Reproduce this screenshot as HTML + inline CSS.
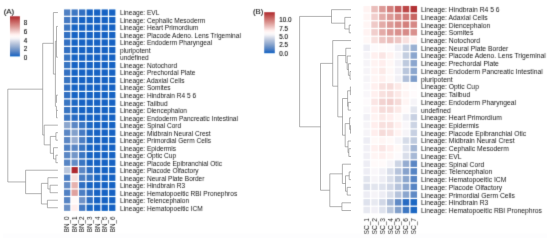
<!DOCTYPE html>
<html><head><meta charset="utf-8"><title>Clustermaps</title>
<style>html,body{margin:0;padding:0;background:#fff;}body{width:550px;height:240px;overflow:hidden;}svg{display:block;}</style>
</head><body>
<svg width="550" height="240" viewBox="0 0 550 240" font-family='"Liberation Sans", Arial, sans-serif'>
<defs><filter id="soft" x="-2%" y="-2%" width="104%" height="104%"><feConvolveMatrix order="3" kernelMatrix="0.0113 0.0838 0.0113 0.0838 0.6193 0.0838 0.0113 0.0838 0.0113" divisor="1" edgeMode="duplicate" preserveAlpha="false"/></filter></defs>
<rect width="550" height="240" fill="#ffffff"/>
<g filter="url(#soft)">
<rect x="3" y="233.5" width="544" height="4.5" fill="#fdfdfe"/>
<text x="3.7" y="13.9" font-size="7.9" fill="#111" stroke="#111" stroke-width="0.12">(A)</text>
<text x="253" y="13.9" font-size="7.7" fill="#111" stroke="#111" stroke-width="0.12">(B)</text>
<linearGradient id="g10" gradientUnits="userSpaceOnUse" x1="0" y1="16.3" x2="0" y2="56.4"><stop offset="0.00" stop-color="#ae282d"/><stop offset="0.05" stop-color="#b83e3f"/><stop offset="0.10" stop-color="#c15453"/><stop offset="0.15" stop-color="#ca6a67"/><stop offset="0.20" stop-color="#d37f7c"/><stop offset="0.25" stop-color="#da9490"/><stop offset="0.30" stop-color="#e3aaa7"/><stop offset="0.35" stop-color="#ebc0be"/><stop offset="0.40" stop-color="#f5d7d5"/><stop offset="0.45" stop-color="#ffeeed"/><stop offset="0.50" stop-color="#fff9f8"/><stop offset="0.55" stop-color="#f6f4f8"/><stop offset="0.60" stop-color="#dee2ed"/><stop offset="0.65" stop-color="#c7d0e2"/><stop offset="0.70" stop-color="#b0bfd9"/><stop offset="0.75" stop-color="#9ab0d2"/><stop offset="0.80" stop-color="#82a0cb"/><stop offset="0.85" stop-color="#6a90c6"/><stop offset="0.90" stop-color="#5080c3"/><stop offset="0.95" stop-color="#3270c2"/><stop offset="1.00" stop-color="#0e61c3"/></linearGradient>
<rect x="10" y="16.3" width="9.90" height="40.10" fill="url(#g10)"/>
<g font-size="6.3" fill="#161616" stroke="#161616" stroke-width="0.15">
<text x="23.8" y="25.37">8</text>
<text x="23.8" y="34.07">6</text>
<text x="23.8" y="42.77">4</text>
<text x="23.8" y="51.47">2</text>
<text x="23.8" y="60.07">0</text>
</g>
<linearGradient id="g264" gradientUnits="userSpaceOnUse" x1="0" y1="12.2" x2="0" y2="53.2"><stop offset="0.00" stop-color="#ae282d"/><stop offset="0.05" stop-color="#b83e3f"/><stop offset="0.10" stop-color="#c15453"/><stop offset="0.15" stop-color="#ca6a67"/><stop offset="0.20" stop-color="#d37f7c"/><stop offset="0.25" stop-color="#da9490"/><stop offset="0.30" stop-color="#e3aaa7"/><stop offset="0.35" stop-color="#ebc0be"/><stop offset="0.40" stop-color="#f5d7d5"/><stop offset="0.45" stop-color="#ffeeed"/><stop offset="0.50" stop-color="#fff9f8"/><stop offset="0.55" stop-color="#f6f4f8"/><stop offset="0.60" stop-color="#dee2ed"/><stop offset="0.65" stop-color="#c7d0e2"/><stop offset="0.70" stop-color="#b0bfd9"/><stop offset="0.75" stop-color="#9ab0d2"/><stop offset="0.80" stop-color="#82a0cb"/><stop offset="0.85" stop-color="#6a90c6"/><stop offset="0.90" stop-color="#5080c3"/><stop offset="0.95" stop-color="#3270c2"/><stop offset="1.00" stop-color="#0e61c3"/></linearGradient>
<rect x="264.2" y="12.2" width="10.60" height="41.00" fill="url(#g264)"/>
<g font-size="6.3" fill="#161616" stroke="#161616" stroke-width="0.15">
<text x="279.3" y="22.27">10.0</text>
<text x="279.3" y="30.67">7.5</text>
<text x="279.3" y="39.07">5.0</text>
<text x="279.3" y="47.47">2.5</text>
<text x="279.3" y="55.77">0.0</text>
</g>
<g id="heatA">
<rect x="64.03" y="9.43" width="6.26" height="6.26" fill="#5080c3"/>
<rect x="71.54" y="9.43" width="6.26" height="6.26" fill="#3e77c2"/>
<rect x="79.05" y="9.43" width="6.26" height="6.26" fill="#3270c2"/>
<rect x="86.57" y="9.43" width="6.26" height="6.26" fill="#1262c3"/>
<rect x="94.08" y="9.43" width="6.26" height="6.26" fill="#1262c3"/>
<rect x="101.60" y="9.43" width="6.26" height="6.26" fill="#1262c3"/>
<rect x="109.11" y="9.43" width="6.26" height="6.26" fill="#1262c3"/>
<rect x="64.03" y="16.93" width="6.26" height="6.26" fill="#457ac3"/>
<rect x="71.54" y="16.93" width="6.26" height="6.26" fill="#256ac2"/>
<rect x="79.05" y="16.93" width="6.26" height="6.26" fill="#1262c3"/>
<rect x="86.57" y="16.93" width="6.26" height="6.26" fill="#1262c3"/>
<rect x="94.08" y="16.93" width="6.26" height="6.26" fill="#1262c3"/>
<rect x="101.60" y="16.93" width="6.26" height="6.26" fill="#1262c3"/>
<rect x="109.11" y="16.93" width="6.26" height="6.26" fill="#1262c3"/>
<rect x="64.03" y="24.44" width="6.26" height="6.26" fill="#3e77c2"/>
<rect x="71.54" y="24.44" width="6.26" height="6.26" fill="#1664c3"/>
<rect x="79.05" y="24.44" width="6.26" height="6.26" fill="#1262c3"/>
<rect x="86.57" y="24.44" width="6.26" height="6.26" fill="#1262c3"/>
<rect x="94.08" y="24.44" width="6.26" height="6.26" fill="#1262c3"/>
<rect x="101.60" y="24.44" width="6.26" height="6.26" fill="#1262c3"/>
<rect x="109.11" y="24.44" width="6.26" height="6.26" fill="#1262c3"/>
<rect x="64.03" y="31.95" width="6.26" height="6.26" fill="#3270c2"/>
<rect x="71.54" y="31.95" width="6.26" height="6.26" fill="#1664c3"/>
<rect x="79.05" y="31.95" width="6.26" height="6.26" fill="#1262c3"/>
<rect x="86.57" y="31.95" width="6.26" height="6.26" fill="#1262c3"/>
<rect x="94.08" y="31.95" width="6.26" height="6.26" fill="#1262c3"/>
<rect x="101.60" y="31.95" width="6.26" height="6.26" fill="#1262c3"/>
<rect x="109.11" y="31.95" width="6.26" height="6.26" fill="#1262c3"/>
<rect x="64.03" y="39.45" width="6.26" height="6.26" fill="#3270c2"/>
<rect x="71.54" y="39.45" width="6.26" height="6.26" fill="#1664c3"/>
<rect x="79.05" y="39.45" width="6.26" height="6.26" fill="#1262c3"/>
<rect x="86.57" y="39.45" width="6.26" height="6.26" fill="#1262c3"/>
<rect x="94.08" y="39.45" width="6.26" height="6.26" fill="#1262c3"/>
<rect x="101.60" y="39.45" width="6.26" height="6.26" fill="#1262c3"/>
<rect x="109.11" y="39.45" width="6.26" height="6.26" fill="#1262c3"/>
<rect x="64.03" y="46.96" width="6.26" height="6.26" fill="#3270c2"/>
<rect x="71.54" y="46.96" width="6.26" height="6.26" fill="#1664c3"/>
<rect x="79.05" y="46.96" width="6.26" height="6.26" fill="#1262c3"/>
<rect x="86.57" y="46.96" width="6.26" height="6.26" fill="#1262c3"/>
<rect x="94.08" y="46.96" width="6.26" height="6.26" fill="#1262c3"/>
<rect x="101.60" y="46.96" width="6.26" height="6.26" fill="#1262c3"/>
<rect x="109.11" y="46.96" width="6.26" height="6.26" fill="#1262c3"/>
<rect x="64.03" y="54.47" width="6.26" height="6.26" fill="#3974c2"/>
<rect x="71.54" y="54.47" width="6.26" height="6.26" fill="#1664c3"/>
<rect x="79.05" y="54.47" width="6.26" height="6.26" fill="#1262c3"/>
<rect x="86.57" y="54.47" width="6.26" height="6.26" fill="#1262c3"/>
<rect x="94.08" y="54.47" width="6.26" height="6.26" fill="#1262c3"/>
<rect x="101.60" y="54.47" width="6.26" height="6.26" fill="#1262c3"/>
<rect x="109.11" y="54.47" width="6.26" height="6.26" fill="#1262c3"/>
<rect x="64.03" y="61.98" width="6.26" height="6.26" fill="#3974c2"/>
<rect x="71.54" y="61.98" width="6.26" height="6.26" fill="#1664c3"/>
<rect x="79.05" y="61.98" width="6.26" height="6.26" fill="#1262c3"/>
<rect x="86.57" y="61.98" width="6.26" height="6.26" fill="#1262c3"/>
<rect x="94.08" y="61.98" width="6.26" height="6.26" fill="#1262c3"/>
<rect x="101.60" y="61.98" width="6.26" height="6.26" fill="#1262c3"/>
<rect x="109.11" y="61.98" width="6.26" height="6.26" fill="#1262c3"/>
<rect x="64.03" y="69.48" width="6.26" height="6.26" fill="#3270c2"/>
<rect x="71.54" y="69.48" width="6.26" height="6.26" fill="#1664c3"/>
<rect x="79.05" y="69.48" width="6.26" height="6.26" fill="#1262c3"/>
<rect x="86.57" y="69.48" width="6.26" height="6.26" fill="#1262c3"/>
<rect x="94.08" y="69.48" width="6.26" height="6.26" fill="#1262c3"/>
<rect x="101.60" y="69.48" width="6.26" height="6.26" fill="#1262c3"/>
<rect x="109.11" y="69.48" width="6.26" height="6.26" fill="#1262c3"/>
<rect x="64.03" y="76.99" width="6.26" height="6.26" fill="#3974c2"/>
<rect x="71.54" y="76.99" width="6.26" height="6.26" fill="#1664c3"/>
<rect x="79.05" y="76.99" width="6.26" height="6.26" fill="#1262c3"/>
<rect x="86.57" y="76.99" width="6.26" height="6.26" fill="#1262c3"/>
<rect x="94.08" y="76.99" width="6.26" height="6.26" fill="#1262c3"/>
<rect x="101.60" y="76.99" width="6.26" height="6.26" fill="#1262c3"/>
<rect x="109.11" y="76.99" width="6.26" height="6.26" fill="#1262c3"/>
<rect x="64.03" y="84.50" width="6.26" height="6.26" fill="#3270c2"/>
<rect x="71.54" y="84.50" width="6.26" height="6.26" fill="#1664c3"/>
<rect x="79.05" y="84.50" width="6.26" height="6.26" fill="#1262c3"/>
<rect x="86.57" y="84.50" width="6.26" height="6.26" fill="#1262c3"/>
<rect x="94.08" y="84.50" width="6.26" height="6.26" fill="#1262c3"/>
<rect x="101.60" y="84.50" width="6.26" height="6.26" fill="#1262c3"/>
<rect x="109.11" y="84.50" width="6.26" height="6.26" fill="#1262c3"/>
<rect x="64.03" y="92.01" width="6.26" height="6.26" fill="#3270c2"/>
<rect x="71.54" y="92.01" width="6.26" height="6.26" fill="#1664c3"/>
<rect x="79.05" y="92.01" width="6.26" height="6.26" fill="#1262c3"/>
<rect x="86.57" y="92.01" width="6.26" height="6.26" fill="#1262c3"/>
<rect x="94.08" y="92.01" width="6.26" height="6.26" fill="#1262c3"/>
<rect x="101.60" y="92.01" width="6.26" height="6.26" fill="#1262c3"/>
<rect x="109.11" y="92.01" width="6.26" height="6.26" fill="#1262c3"/>
<rect x="64.03" y="99.51" width="6.26" height="6.26" fill="#3974c2"/>
<rect x="71.54" y="99.51" width="6.26" height="6.26" fill="#1f68c3"/>
<rect x="79.05" y="99.51" width="6.26" height="6.26" fill="#1262c3"/>
<rect x="86.57" y="99.51" width="6.26" height="6.26" fill="#1262c3"/>
<rect x="94.08" y="99.51" width="6.26" height="6.26" fill="#1262c3"/>
<rect x="101.60" y="99.51" width="6.26" height="6.26" fill="#1262c3"/>
<rect x="109.11" y="99.51" width="6.26" height="6.26" fill="#1262c3"/>
<rect x="64.03" y="107.02" width="6.26" height="6.26" fill="#3974c2"/>
<rect x="71.54" y="107.02" width="6.26" height="6.26" fill="#1f68c3"/>
<rect x="79.05" y="107.02" width="6.26" height="6.26" fill="#1262c3"/>
<rect x="86.57" y="107.02" width="6.26" height="6.26" fill="#1262c3"/>
<rect x="94.08" y="107.02" width="6.26" height="6.26" fill="#1262c3"/>
<rect x="101.60" y="107.02" width="6.26" height="6.26" fill="#1262c3"/>
<rect x="109.11" y="107.02" width="6.26" height="6.26" fill="#1262c3"/>
<rect x="64.03" y="114.53" width="6.26" height="6.26" fill="#3e77c2"/>
<rect x="71.54" y="114.53" width="6.26" height="6.26" fill="#256ac2"/>
<rect x="79.05" y="114.53" width="6.26" height="6.26" fill="#1262c3"/>
<rect x="86.57" y="114.53" width="6.26" height="6.26" fill="#1262c3"/>
<rect x="94.08" y="114.53" width="6.26" height="6.26" fill="#1262c3"/>
<rect x="101.60" y="114.53" width="6.26" height="6.26" fill="#1262c3"/>
<rect x="109.11" y="114.53" width="6.26" height="6.26" fill="#1262c3"/>
<rect x="64.03" y="122.04" width="6.26" height="6.26" fill="#8ba6ce"/>
<rect x="71.54" y="122.04" width="6.26" height="6.26" fill="#5a86c4"/>
<rect x="79.05" y="122.04" width="6.26" height="6.26" fill="#3974c2"/>
<rect x="86.57" y="122.04" width="6.26" height="6.26" fill="#1f68c3"/>
<rect x="94.08" y="122.04" width="6.26" height="6.26" fill="#1262c3"/>
<rect x="101.60" y="122.04" width="6.26" height="6.26" fill="#1262c3"/>
<rect x="109.11" y="122.04" width="6.26" height="6.26" fill="#1262c3"/>
<rect x="64.03" y="129.54" width="6.26" height="6.26" fill="#5a86c4"/>
<rect x="71.54" y="129.54" width="6.26" height="6.26" fill="#82a0cb"/>
<rect x="79.05" y="129.54" width="6.26" height="6.26" fill="#457ac3"/>
<rect x="86.57" y="129.54" width="6.26" height="6.26" fill="#1f68c3"/>
<rect x="94.08" y="129.54" width="6.26" height="6.26" fill="#1262c3"/>
<rect x="101.60" y="129.54" width="6.26" height="6.26" fill="#1262c3"/>
<rect x="109.11" y="129.54" width="6.26" height="6.26" fill="#1262c3"/>
<rect x="64.03" y="137.05" width="6.26" height="6.26" fill="#5a86c4"/>
<rect x="71.54" y="137.05" width="6.26" height="6.26" fill="#95acd0"/>
<rect x="79.05" y="137.05" width="6.26" height="6.26" fill="#4b7ec3"/>
<rect x="86.57" y="137.05" width="6.26" height="6.26" fill="#1f68c3"/>
<rect x="94.08" y="137.05" width="6.26" height="6.26" fill="#1262c3"/>
<rect x="101.60" y="137.05" width="6.26" height="6.26" fill="#1262c3"/>
<rect x="109.11" y="137.05" width="6.26" height="6.26" fill="#1262c3"/>
<rect x="64.03" y="144.56" width="6.26" height="6.26" fill="#5080c3"/>
<rect x="71.54" y="144.56" width="6.26" height="6.26" fill="#5a86c4"/>
<rect x="79.05" y="144.56" width="6.26" height="6.26" fill="#3974c2"/>
<rect x="86.57" y="144.56" width="6.26" height="6.26" fill="#1664c3"/>
<rect x="94.08" y="144.56" width="6.26" height="6.26" fill="#1262c3"/>
<rect x="101.60" y="144.56" width="6.26" height="6.26" fill="#1262c3"/>
<rect x="109.11" y="144.56" width="6.26" height="6.26" fill="#1262c3"/>
<rect x="64.03" y="152.07" width="6.26" height="6.26" fill="#5a86c4"/>
<rect x="71.54" y="152.07" width="6.26" height="6.26" fill="#7396c8"/>
<rect x="79.05" y="152.07" width="6.26" height="6.26" fill="#3974c2"/>
<rect x="86.57" y="152.07" width="6.26" height="6.26" fill="#1664c3"/>
<rect x="94.08" y="152.07" width="6.26" height="6.26" fill="#1262c3"/>
<rect x="101.60" y="152.07" width="6.26" height="6.26" fill="#1262c3"/>
<rect x="109.11" y="152.07" width="6.26" height="6.26" fill="#1262c3"/>
<rect x="64.03" y="159.57" width="6.26" height="6.26" fill="#5684c4"/>
<rect x="71.54" y="159.57" width="6.26" height="6.26" fill="#648cc6"/>
<rect x="79.05" y="159.57" width="6.26" height="6.26" fill="#3974c2"/>
<rect x="86.57" y="159.57" width="6.26" height="6.26" fill="#1664c3"/>
<rect x="94.08" y="159.57" width="6.26" height="6.26" fill="#1262c3"/>
<rect x="101.60" y="159.57" width="6.26" height="6.26" fill="#1262c3"/>
<rect x="109.11" y="159.57" width="6.26" height="6.26" fill="#1262c3"/>
<rect x="64.03" y="167.08" width="6.26" height="6.26" fill="#b9c6dc"/>
<rect x="71.54" y="167.08" width="6.26" height="6.26" fill="#ae282d"/>
<rect x="79.05" y="167.08" width="6.26" height="6.26" fill="#5a86c4"/>
<rect x="86.57" y="167.08" width="6.26" height="6.26" fill="#2d6ec2"/>
<rect x="94.08" y="167.08" width="6.26" height="6.26" fill="#1664c3"/>
<rect x="101.60" y="167.08" width="6.26" height="6.26" fill="#1262c3"/>
<rect x="109.11" y="167.08" width="6.26" height="6.26" fill="#1262c3"/>
<rect x="64.03" y="174.59" width="6.26" height="6.26" fill="#4b7ec3"/>
<rect x="71.54" y="174.59" width="6.26" height="6.26" fill="#f8e0de"/>
<rect x="79.05" y="174.59" width="6.26" height="6.26" fill="#4b7ec3"/>
<rect x="86.57" y="174.59" width="6.26" height="6.26" fill="#3974c2"/>
<rect x="94.08" y="174.59" width="6.26" height="6.26" fill="#1f68c3"/>
<rect x="101.60" y="174.59" width="6.26" height="6.26" fill="#1262c3"/>
<rect x="109.11" y="174.59" width="6.26" height="6.26" fill="#1262c3"/>
<rect x="64.03" y="182.10" width="6.26" height="6.26" fill="#648cc6"/>
<rect x="71.54" y="182.10" width="6.26" height="6.26" fill="#e6b2af"/>
<rect x="79.05" y="182.10" width="6.26" height="6.26" fill="#2d6ec2"/>
<rect x="86.57" y="182.10" width="6.26" height="6.26" fill="#1664c3"/>
<rect x="94.08" y="182.10" width="6.26" height="6.26" fill="#1262c3"/>
<rect x="101.60" y="182.10" width="6.26" height="6.26" fill="#1262c3"/>
<rect x="109.11" y="182.10" width="6.26" height="6.26" fill="#1262c3"/>
<rect x="64.03" y="189.60" width="6.26" height="6.26" fill="#5080c3"/>
<rect x="71.54" y="189.60" width="6.26" height="6.26" fill="#dfa19e"/>
<rect x="79.05" y="189.60" width="6.26" height="6.26" fill="#4b7ec3"/>
<rect x="86.57" y="189.60" width="6.26" height="6.26" fill="#2d6ec2"/>
<rect x="94.08" y="189.60" width="6.26" height="6.26" fill="#1262c3"/>
<rect x="101.60" y="189.60" width="6.26" height="6.26" fill="#1262c3"/>
<rect x="109.11" y="189.60" width="6.26" height="6.26" fill="#1262c3"/>
<rect x="64.03" y="197.11" width="6.26" height="6.26" fill="#5684c4"/>
<rect x="71.54" y="197.11" width="6.26" height="6.26" fill="#fff9f8"/>
<rect x="79.05" y="197.11" width="6.26" height="6.26" fill="#6e92c7"/>
<rect x="86.57" y="197.11" width="6.26" height="6.26" fill="#2d6ec2"/>
<rect x="94.08" y="197.11" width="6.26" height="6.26" fill="#1262c3"/>
<rect x="101.60" y="197.11" width="6.26" height="6.26" fill="#1262c3"/>
<rect x="109.11" y="197.11" width="6.26" height="6.26" fill="#1262c3"/>
<rect x="64.03" y="204.62" width="6.26" height="6.26" fill="#6a90c6"/>
<rect x="71.54" y="204.62" width="6.26" height="6.26" fill="#ffeeed"/>
<rect x="79.05" y="204.62" width="6.26" height="6.26" fill="#457ac3"/>
<rect x="86.57" y="204.62" width="6.26" height="6.26" fill="#1f68c3"/>
<rect x="94.08" y="204.62" width="6.26" height="6.26" fill="#1262c3"/>
<rect x="101.60" y="204.62" width="6.26" height="6.26" fill="#1262c3"/>
<rect x="109.11" y="204.62" width="6.26" height="6.26" fill="#1262c3"/>
</g>
<g id="heatB">
<rect x="363.45" y="5.95" width="6.54" height="6.43" fill="#fff3f2"/>
<rect x="371.29" y="5.95" width="6.54" height="6.43" fill="#eabdba"/>
<rect x="379.14" y="5.95" width="6.54" height="6.43" fill="#dc9996"/>
<rect x="386.98" y="5.95" width="6.54" height="6.43" fill="#d37f7c"/>
<rect x="394.82" y="5.95" width="6.54" height="6.43" fill="#c55c5b"/>
<rect x="402.66" y="5.95" width="6.54" height="6.43" fill="#bc4746"/>
<rect x="410.51" y="5.95" width="6.54" height="6.43" fill="#b23234"/>
<rect x="363.45" y="13.68" width="6.54" height="6.43" fill="#fff5f4"/>
<rect x="371.29" y="13.68" width="6.54" height="6.43" fill="#f1cecc"/>
<rect x="379.14" y="13.68" width="6.54" height="6.43" fill="#e3aaa7"/>
<rect x="386.98" y="13.68" width="6.54" height="6.43" fill="#dc9996"/>
<rect x="394.82" y="13.68" width="6.54" height="6.43" fill="#d68885"/>
<rect x="402.66" y="13.68" width="6.54" height="6.43" fill="#d07774"/>
<rect x="410.51" y="13.68" width="6.54" height="6.43" fill="#c86562"/>
<rect x="363.45" y="21.40" width="6.54" height="6.43" fill="#fff5f4"/>
<rect x="371.29" y="21.40" width="6.54" height="6.43" fill="#efc9c7"/>
<rect x="379.14" y="21.40" width="6.54" height="6.43" fill="#e3aaa7"/>
<rect x="386.98" y="21.40" width="6.54" height="6.43" fill="#dc9996"/>
<rect x="394.82" y="21.40" width="6.54" height="6.43" fill="#d78b88"/>
<rect x="402.66" y="21.40" width="6.54" height="6.43" fill="#d37f7c"/>
<rect x="410.51" y="21.40" width="6.54" height="6.43" fill="#d68885"/>
<rect x="363.45" y="29.13" width="6.54" height="6.43" fill="#fff3f2"/>
<rect x="371.29" y="29.13" width="6.54" height="6.43" fill="#f1cecc"/>
<rect x="379.14" y="29.13" width="6.54" height="6.43" fill="#e3aaa7"/>
<rect x="386.98" y="29.13" width="6.54" height="6.43" fill="#dc9996"/>
<rect x="394.82" y="29.13" width="6.54" height="6.43" fill="#d9908d"/>
<rect x="402.66" y="29.13" width="6.54" height="6.43" fill="#d78b88"/>
<rect x="410.51" y="29.13" width="6.54" height="6.43" fill="#d9908d"/>
<rect x="363.45" y="36.85" width="6.54" height="6.43" fill="#fff8f7"/>
<rect x="371.29" y="36.85" width="6.54" height="6.43" fill="#f8e0de"/>
<rect x="379.14" y="36.85" width="6.54" height="6.43" fill="#edc5c3"/>
<rect x="386.98" y="36.85" width="6.54" height="6.43" fill="#eabdba"/>
<rect x="394.82" y="36.85" width="6.54" height="6.43" fill="#edc5c3"/>
<rect x="402.66" y="36.85" width="6.54" height="6.43" fill="#f8e0de"/>
<rect x="410.51" y="36.85" width="6.54" height="6.43" fill="#fff0ef"/>
<rect x="363.45" y="44.58" width="6.54" height="6.43" fill="#ededf4"/>
<rect x="371.29" y="44.58" width="6.54" height="6.43" fill="#fdfafc"/>
<rect x="379.14" y="44.58" width="6.54" height="6.43" fill="#fffafa"/>
<rect x="386.98" y="44.58" width="6.54" height="6.43" fill="#fdfafc"/>
<rect x="394.82" y="44.58" width="6.54" height="6.43" fill="#ededf4"/>
<rect x="402.66" y="44.58" width="6.54" height="6.43" fill="#c7d0e2"/>
<rect x="410.51" y="44.58" width="6.54" height="6.43" fill="#9ab0d2"/>
<rect x="363.45" y="52.31" width="6.54" height="6.43" fill="#f6f4f8"/>
<rect x="371.29" y="52.31" width="6.54" height="6.43" fill="#fff0ef"/>
<rect x="379.14" y="52.31" width="6.54" height="6.43" fill="#fbe5e4"/>
<rect x="386.98" y="52.31" width="6.54" height="6.43" fill="#fff3f2"/>
<rect x="394.82" y="52.31" width="6.54" height="6.43" fill="#f6f4f8"/>
<rect x="402.66" y="52.31" width="6.54" height="6.43" fill="#c3cee0"/>
<rect x="410.51" y="52.31" width="6.54" height="6.43" fill="#8ba6ce"/>
<rect x="363.45" y="60.03" width="6.54" height="6.43" fill="#f6f4f8"/>
<rect x="371.29" y="60.03" width="6.54" height="6.43" fill="#fff3f2"/>
<rect x="379.14" y="60.03" width="6.54" height="6.43" fill="#ffeeed"/>
<rect x="386.98" y="60.03" width="6.54" height="6.43" fill="#fff8f7"/>
<rect x="394.82" y="60.03" width="6.54" height="6.43" fill="#f1f0f6"/>
<rect x="402.66" y="60.03" width="6.54" height="6.43" fill="#becade"/>
<rect x="410.51" y="60.03" width="6.54" height="6.43" fill="#8ba6ce"/>
<rect x="363.45" y="67.76" width="6.54" height="6.43" fill="#f6f4f8"/>
<rect x="371.29" y="67.76" width="6.54" height="6.43" fill="#fff3f2"/>
<rect x="379.14" y="67.76" width="6.54" height="6.43" fill="#fce9e7"/>
<rect x="386.98" y="67.76" width="6.54" height="6.43" fill="#fff8f7"/>
<rect x="394.82" y="67.76" width="6.54" height="6.43" fill="#f1f0f6"/>
<rect x="402.66" y="67.76" width="6.54" height="6.43" fill="#b9c6dc"/>
<rect x="410.51" y="67.76" width="6.54" height="6.43" fill="#8ba6ce"/>
<rect x="363.45" y="75.48" width="6.54" height="6.43" fill="#f6f4f8"/>
<rect x="371.29" y="75.48" width="6.54" height="6.43" fill="#fff5f4"/>
<rect x="379.14" y="75.48" width="6.54" height="6.43" fill="#fff0ef"/>
<rect x="386.98" y="75.48" width="6.54" height="6.43" fill="#fff8f7"/>
<rect x="394.82" y="75.48" width="6.54" height="6.43" fill="#f1f0f6"/>
<rect x="402.66" y="75.48" width="6.54" height="6.43" fill="#b0bfd9"/>
<rect x="410.51" y="75.48" width="6.54" height="6.43" fill="#7d9cca"/>
<rect x="363.45" y="83.21" width="6.54" height="6.43" fill="#f9f7fa"/>
<rect x="371.29" y="83.21" width="6.54" height="6.43" fill="#fff0ef"/>
<rect x="379.14" y="83.21" width="6.54" height="6.43" fill="#f8e0de"/>
<rect x="386.98" y="83.21" width="6.54" height="6.43" fill="#f6dbd9"/>
<rect x="394.82" y="83.21" width="6.54" height="6.43" fill="#fce9e7"/>
<rect x="402.66" y="83.21" width="6.54" height="6.43" fill="#fff8f7"/>
<rect x="410.51" y="83.21" width="6.54" height="6.43" fill="#fdfafc"/>
<rect x="363.45" y="90.94" width="6.54" height="6.43" fill="#f9f7fa"/>
<rect x="371.29" y="90.94" width="6.54" height="6.43" fill="#fff0ef"/>
<rect x="379.14" y="90.94" width="6.54" height="6.43" fill="#f8e0de"/>
<rect x="386.98" y="90.94" width="6.54" height="6.43" fill="#f6dbd9"/>
<rect x="394.82" y="90.94" width="6.54" height="6.43" fill="#fce9e7"/>
<rect x="402.66" y="90.94" width="6.54" height="6.43" fill="#fff5f4"/>
<rect x="410.51" y="90.94" width="6.54" height="6.43" fill="#fffbfc"/>
<rect x="363.45" y="98.66" width="6.54" height="6.43" fill="#fdfafc"/>
<rect x="371.29" y="98.66" width="6.54" height="6.43" fill="#fbe5e4"/>
<rect x="379.14" y="98.66" width="6.54" height="6.43" fill="#f2d2d0"/>
<rect x="386.98" y="98.66" width="6.54" height="6.43" fill="#f1cecc"/>
<rect x="394.82" y="98.66" width="6.54" height="6.43" fill="#f6dbd9"/>
<rect x="402.66" y="98.66" width="6.54" height="6.43" fill="#fff5f4"/>
<rect x="410.51" y="98.66" width="6.54" height="6.43" fill="#f6f4f8"/>
<rect x="363.45" y="106.39" width="6.54" height="6.43" fill="#f9f7fa"/>
<rect x="371.29" y="106.39" width="6.54" height="6.43" fill="#ffeeed"/>
<rect x="379.14" y="106.39" width="6.54" height="6.43" fill="#f6dbd9"/>
<rect x="386.98" y="106.39" width="6.54" height="6.43" fill="#f6dbd9"/>
<rect x="394.82" y="106.39" width="6.54" height="6.43" fill="#fce9e7"/>
<rect x="402.66" y="106.39" width="6.54" height="6.43" fill="#fffafa"/>
<rect x="410.51" y="106.39" width="6.54" height="6.43" fill="#e2e5ee"/>
<rect x="363.45" y="114.11" width="6.54" height="6.43" fill="#f1f0f6"/>
<rect x="371.29" y="114.11" width="6.54" height="6.43" fill="#fff3f2"/>
<rect x="379.14" y="114.11" width="6.54" height="6.43" fill="#fce9e7"/>
<rect x="386.98" y="114.11" width="6.54" height="6.43" fill="#ffeeed"/>
<rect x="394.82" y="114.11" width="6.54" height="6.43" fill="#fff8f7"/>
<rect x="402.66" y="114.11" width="6.54" height="6.43" fill="#ededf4"/>
<rect x="410.51" y="114.11" width="6.54" height="6.43" fill="#c7d0e2"/>
<rect x="363.45" y="121.84" width="6.54" height="6.43" fill="#f6f4f8"/>
<rect x="371.29" y="121.84" width="6.54" height="6.43" fill="#ffeeed"/>
<rect x="379.14" y="121.84" width="6.54" height="6.43" fill="#f8e0de"/>
<rect x="386.98" y="121.84" width="6.54" height="6.43" fill="#f8e0de"/>
<rect x="394.82" y="121.84" width="6.54" height="6.43" fill="#fff0ef"/>
<rect x="402.66" y="121.84" width="6.54" height="6.43" fill="#f9f7fa"/>
<rect x="410.51" y="121.84" width="6.54" height="6.43" fill="#ccd4e4"/>
<rect x="363.45" y="129.56" width="6.54" height="6.43" fill="#f6f4f8"/>
<rect x="371.29" y="129.56" width="6.54" height="6.43" fill="#ffeeed"/>
<rect x="379.14" y="129.56" width="6.54" height="6.43" fill="#f6dbd9"/>
<rect x="386.98" y="129.56" width="6.54" height="6.43" fill="#f8e0de"/>
<rect x="394.82" y="129.56" width="6.54" height="6.43" fill="#fff3f2"/>
<rect x="402.66" y="129.56" width="6.54" height="6.43" fill="#f6f4f8"/>
<rect x="410.51" y="129.56" width="6.54" height="6.43" fill="#c7d0e2"/>
<rect x="363.45" y="137.29" width="6.54" height="6.43" fill="#ededf4"/>
<rect x="371.29" y="137.29" width="6.54" height="6.43" fill="#fff9f8"/>
<rect x="379.14" y="137.29" width="6.54" height="6.43" fill="#fff5f4"/>
<rect x="386.98" y="137.29" width="6.54" height="6.43" fill="#fff9f8"/>
<rect x="394.82" y="137.29" width="6.54" height="6.43" fill="#f6f4f8"/>
<rect x="402.66" y="137.29" width="6.54" height="6.43" fill="#d5dbe8"/>
<rect x="410.51" y="137.29" width="6.54" height="6.43" fill="#becade"/>
<rect x="363.45" y="145.02" width="6.54" height="6.43" fill="#f1f0f6"/>
<rect x="371.29" y="145.02" width="6.54" height="6.43" fill="#fff0ef"/>
<rect x="379.14" y="145.02" width="6.54" height="6.43" fill="#fbe5e4"/>
<rect x="386.98" y="145.02" width="6.54" height="6.43" fill="#ffeeed"/>
<rect x="394.82" y="145.02" width="6.54" height="6.43" fill="#fff9f8"/>
<rect x="402.66" y="145.02" width="6.54" height="6.43" fill="#dee2ed"/>
<rect x="410.51" y="145.02" width="6.54" height="6.43" fill="#a3b6d4"/>
<rect x="363.45" y="152.74" width="6.54" height="6.43" fill="#f1f0f6"/>
<rect x="371.29" y="152.74" width="6.54" height="6.43" fill="#fff5f4"/>
<rect x="379.14" y="152.74" width="6.54" height="6.43" fill="#fff0ef"/>
<rect x="386.98" y="152.74" width="6.54" height="6.43" fill="#fff5f4"/>
<rect x="394.82" y="152.74" width="6.54" height="6.43" fill="#fdfafc"/>
<rect x="402.66" y="152.74" width="6.54" height="6.43" fill="#d9deea"/>
<rect x="410.51" y="152.74" width="6.54" height="6.43" fill="#a7b9d6"/>
<rect x="363.45" y="160.47" width="6.54" height="6.43" fill="#ededf4"/>
<rect x="371.29" y="160.47" width="6.54" height="6.43" fill="#fffafa"/>
<rect x="379.14" y="160.47" width="6.54" height="6.43" fill="#fffafa"/>
<rect x="386.98" y="160.47" width="6.54" height="6.43" fill="#f6f4f8"/>
<rect x="394.82" y="160.47" width="6.54" height="6.43" fill="#ccd4e4"/>
<rect x="402.66" y="160.47" width="6.54" height="6.43" fill="#95acd0"/>
<rect x="410.51" y="160.47" width="6.54" height="6.43" fill="#5a86c4"/>
<rect x="363.45" y="168.19" width="6.54" height="6.43" fill="#ededf4"/>
<rect x="371.29" y="168.19" width="6.54" height="6.43" fill="#f9f7fa"/>
<rect x="379.14" y="168.19" width="6.54" height="6.43" fill="#f1f0f6"/>
<rect x="386.98" y="168.19" width="6.54" height="6.43" fill="#d9deea"/>
<rect x="394.82" y="168.19" width="6.54" height="6.43" fill="#b5c3db"/>
<rect x="402.66" y="168.19" width="6.54" height="6.43" fill="#86a2cc"/>
<rect x="410.51" y="168.19" width="6.54" height="6.43" fill="#5684c4"/>
<rect x="363.45" y="175.92" width="6.54" height="6.43" fill="#e2e5ee"/>
<rect x="371.29" y="175.92" width="6.54" height="6.43" fill="#f6f4f8"/>
<rect x="379.14" y="175.92" width="6.54" height="6.43" fill="#ededf4"/>
<rect x="386.98" y="175.92" width="6.54" height="6.43" fill="#d9deea"/>
<rect x="394.82" y="175.92" width="6.54" height="6.43" fill="#b9c6dc"/>
<rect x="402.66" y="175.92" width="6.54" height="6.43" fill="#8ba6ce"/>
<rect x="410.51" y="175.92" width="6.54" height="6.43" fill="#5684c4"/>
<rect x="363.45" y="183.65" width="6.54" height="6.43" fill="#d9deea"/>
<rect x="371.29" y="183.65" width="6.54" height="6.43" fill="#e2e5ee"/>
<rect x="379.14" y="183.65" width="6.54" height="6.43" fill="#dee2ed"/>
<rect x="386.98" y="183.65" width="6.54" height="6.43" fill="#d0d7e6"/>
<rect x="394.82" y="183.65" width="6.54" height="6.43" fill="#b5c3db"/>
<rect x="402.66" y="183.65" width="6.54" height="6.43" fill="#8ba6ce"/>
<rect x="410.51" y="183.65" width="6.54" height="6.43" fill="#5684c4"/>
<rect x="363.45" y="191.37" width="6.54" height="6.43" fill="#ededf4"/>
<rect x="371.29" y="191.37" width="6.54" height="6.43" fill="#f6f4f8"/>
<rect x="379.14" y="191.37" width="6.54" height="6.43" fill="#ededf4"/>
<rect x="386.98" y="191.37" width="6.54" height="6.43" fill="#d9deea"/>
<rect x="394.82" y="191.37" width="6.54" height="6.43" fill="#b5c3db"/>
<rect x="402.66" y="191.37" width="6.54" height="6.43" fill="#8ba6ce"/>
<rect x="410.51" y="191.37" width="6.54" height="6.43" fill="#608ac5"/>
<rect x="363.45" y="199.10" width="6.54" height="6.43" fill="#dee2ed"/>
<rect x="371.29" y="199.10" width="6.54" height="6.43" fill="#e7e9f1"/>
<rect x="379.14" y="199.10" width="6.54" height="6.43" fill="#d0d7e6"/>
<rect x="386.98" y="199.10" width="6.54" height="6.43" fill="#a7b9d6"/>
<rect x="394.82" y="199.10" width="6.54" height="6.43" fill="#608ac5"/>
<rect x="402.66" y="199.10" width="6.54" height="6.43" fill="#256ac2"/>
<rect x="410.51" y="199.10" width="6.54" height="6.43" fill="#1f68c3"/>
<rect x="363.45" y="206.82" width="6.54" height="6.43" fill="#e7e9f1"/>
<rect x="371.29" y="206.82" width="6.54" height="6.43" fill="#f1f0f6"/>
<rect x="379.14" y="206.82" width="6.54" height="6.43" fill="#dee2ed"/>
<rect x="386.98" y="206.82" width="6.54" height="6.43" fill="#b9c6dc"/>
<rect x="394.82" y="206.82" width="6.54" height="6.43" fill="#82a0cb"/>
<rect x="402.66" y="206.82" width="6.54" height="6.43" fill="#3e77c2"/>
<rect x="410.51" y="206.82" width="6.54" height="6.43" fill="#1f68c3"/>
</g>
<g font-size="6.55" fill="#161616" >
<text x="120.0" y="15.41">Lineage: EVL</text>
<text x="120.0" y="22.92">Lineage: Cephalic Mesoderm</text>
<text x="120.0" y="30.43">Lineage: Heart Primordium</text>
<text x="120.0" y="37.94">Lineage: Placode Adeno. Lens Trigeminal</text>
<text x="120.0" y="45.44">Lineage: Endoderm Pharyngeal</text>
<text x="120.0" y="52.95">pluripotent</text>
<text x="120.0" y="60.46">undefined</text>
<text x="120.0" y="67.97">Lineage: Notochord</text>
<text x="120.0" y="75.47">Lineage: Prechordal Plate</text>
<text x="120.0" y="82.98">Lineage: Adaxial Cells</text>
<text x="120.0" y="90.49">Lineage: Somites</text>
<text x="120.0" y="97.99">Lineage: Hindbrain R4 5 6</text>
<text x="120.0" y="105.50">Lineage: Tailbud</text>
<text x="120.0" y="113.01">Lineage: Diencephalon</text>
<text x="120.0" y="120.52">Lineage: Endoderm Pancreatic Intestinal</text>
<text x="120.0" y="128.02">Lineage: Spinal Cord</text>
<text x="120.0" y="135.53">Lineage: Midbrain Neural Crest</text>
<text x="120.0" y="143.04">Lineage: Primordial Germ Cells</text>
<text x="120.0" y="150.55">Lineage: Epidermis</text>
<text x="120.0" y="158.05">Lineage: Optic Cup</text>
<text x="120.0" y="165.56">Lineage: Placode Epibranchial Otic</text>
<text x="120.0" y="173.07">Lineage: Placode Olfactory</text>
<text x="120.0" y="180.58">Lineage: Neural Plate Border</text>
<text x="120.0" y="188.08">Lineage: Hindbrain R3</text>
<text x="120.0" y="195.59">Lineage: Hematopoeitic RBI Pronephros</text>
<text x="120.0" y="203.10">Lineage: Telencephalon</text>
<text x="120.0" y="210.61">Lineage: Hematopoeitic ICM</text>
</g>
<g font-size="6.75" fill="#161616" >
<text x="421.1" y="12.09">Lineage: Hindbrain R4 5 6</text>
<text x="421.1" y="19.82">Lineage: Adaxial Cells</text>
<text x="421.1" y="27.54">Lineage: Diencephalon</text>
<text x="421.1" y="35.27">Lineage: Somites</text>
<text x="421.1" y="43.00">Lineage: Notochord</text>
<text x="421.1" y="50.72">Lineage: Neural Plate Border</text>
<text x="421.1" y="58.45">Lineage: Placode Adeno. Lens Trigeminal</text>
<text x="421.1" y="66.17">Lineage: Prechordal Plate</text>
<text x="421.1" y="73.90">Lineage: Endoderm Pancreatic Intestinal</text>
<text x="421.1" y="81.63">pluripotent</text>
<text x="421.1" y="89.35">Lineage: Optic Cup</text>
<text x="421.1" y="97.08">Lineage: Tailbud</text>
<text x="421.1" y="104.80">Lineage: Endoderm Pharyngeal</text>
<text x="421.1" y="112.53">undefined</text>
<text x="421.1" y="120.25">Lineage: Heart Primordium</text>
<text x="421.1" y="127.98">Lineage: Epidermis</text>
<text x="421.1" y="135.71">Lineage: Placode Epibranchial Otic</text>
<text x="421.1" y="143.43">Lineage: Midbrain Neural Crest</text>
<text x="421.1" y="151.16">Lineage: Cephalic Mesoderm</text>
<text x="421.1" y="158.88">Lineage: EVL</text>
<text x="421.1" y="166.61">Lineage: Spinal Cord</text>
<text x="421.1" y="174.34">Lineage: Telencephalon</text>
<text x="421.1" y="182.06">Lineage: Hematopoeitic ICM</text>
<text x="421.1" y="189.79">Lineage: Placode Olfactory</text>
<text x="421.1" y="197.51">Lineage: Primordial Germ Cells</text>
<text x="421.1" y="205.24">Lineage: Hindbrain R3</text>
<text x="421.1" y="212.97">Lineage: Hematopoeitic RBI Pronephros</text>
</g>
<g font-size="6.35" fill="#161616" text-anchor="end">
<text transform="translate(69.44,216.40) rotate(-90)">BN_0</text>
<text transform="translate(76.96,216.40) rotate(-90)">BN_1</text>
<text transform="translate(84.47,216.40) rotate(-90)">BN_2</text>
<text transform="translate(91.99,216.40) rotate(-90)">BN_3</text>
<text transform="translate(99.50,216.40) rotate(-90)">BN_4</text>
<text transform="translate(107.01,216.40) rotate(-90)">BN_5</text>
<text transform="translate(114.53,216.40) rotate(-90)">BN_6</text>
</g>
<g font-size="6.6" fill="#161616" text-anchor="end">
<text transform="translate(369.10,218.00) rotate(-90)">SC_1</text>
<text transform="translate(376.94,218.00) rotate(-90)">SC_2</text>
<text transform="translate(384.78,218.00) rotate(-90)">SC_3</text>
<text transform="translate(392.63,218.00) rotate(-90)">SC_4</text>
<text transform="translate(400.47,218.00) rotate(-90)">SC_5</text>
<text transform="translate(408.31,218.00) rotate(-90)">SC_6</text>
<text transform="translate(416.15,218.00) rotate(-90)">SC_7</text>
</g>
</g>
<g fill="none" stroke="#848484" stroke-width="0.62" stroke-linejoin="miter">
<polyline points="55.40,41.20 55.40,106.30"/>
<polyline points="57.90,12.55 53.40,12.55 53.40,74.10 55.40,74.10"/>
<polyline points="57.90,132.67 55.90,132.67 55.90,140.18 57.90,140.18"/>
<polyline points="57.90,155.19 55.90,155.19 55.90,162.70 57.90,162.70"/>
<polyline points="57.90,147.69 53.50,147.69 53.50,158.95 55.90,158.95"/>
<polyline points="55.90,136.43 50.30,136.43 50.30,153.32 53.50,153.32"/>
<polyline points="57.90,125.16 44.20,125.16 44.20,144.87 50.30,144.87"/>
<polyline points="53.40,43.30 42.70,43.30 42.70,135.02 44.20,135.02"/>
<polyline points="57.90,185.22 50.10,185.22 50.10,192.73 57.90,192.73"/>
<polyline points="57.90,177.72 47.90,177.72 47.90,188.98 50.10,188.98"/>
<polyline points="57.90,200.24 47.40,200.24 47.40,207.75 57.90,207.75"/>
<polyline points="47.90,183.35 41.40,183.35 41.40,203.99 47.40,203.99"/>
<polyline points="57.90,170.21 25.60,170.21 25.60,193.67 41.40,193.67"/>
<polyline points="42.70,89.16 7.80,89.16 7.80,181.94 25.60,181.94"/>
<polyline points="57.90,26.40 56.50,26.40 56.50,57.20 57.90,57.20"/>
<polyline points="56.50,41.20 55.40,41.20"/>
<polyline points="55.40,106.30 56.40,106.30"/>
<polyline points="57.90,95.10 56.50,95.10 56.50,102.80"/>
<polyline points="57.90,110.40 56.50,110.40 56.50,117.80 57.60,117.80"/>
<polyline points="56.40,106.30 56.40,110.40"/>
<g transform="translate(0,0.5)"><polyline points="351.00,24.61 349.20,24.61 349.20,32.34 351.00,32.34"/>
<polyline points="351.00,16.89 344.80,16.89 344.80,28.48 349.20,28.48"/>
<polyline points="351.00,9.16 331.50,9.16 331.50,22.68 344.80,22.68"/>
<polyline points="351.00,70.97 350.00,70.97 350.00,78.70 351.00,78.70"/>
<polyline points="351.00,63.24 348.40,63.24 348.40,74.83 350.00,74.83"/>
<polyline points="351.00,55.52 347.20,55.52 347.20,69.04 348.40,69.04"/>
<polyline points="351.00,47.79 345.80,47.79 345.80,62.28 347.20,62.28"/>
<polyline points="351.00,86.42 350.40,86.42 350.40,94.15 351.00,94.15"/>
<polyline points="351.00,101.87 348.20,101.87 348.20,109.60 351.00,109.60"/>
<polyline points="350.40,90.29 347.60,90.29 347.60,105.74 348.20,105.74"/>
<polyline points="351.00,125.05 350.50,125.05 350.50,132.78 351.00,132.78"/>
<polyline points="351.00,117.33 349.60,117.33 349.60,128.91 350.50,128.91"/>
<polyline points="351.00,148.23 348.80,148.23 348.80,155.96 351.00,155.96"/>
<polyline points="351.00,140.50 348.00,140.50 348.00,152.09 348.80,152.09"/>
<polyline points="349.60,123.12 345.20,123.12 345.20,146.30 348.00,146.30"/>
<polyline points="347.60,98.01 342.50,98.01 342.50,134.71 345.20,134.71"/>
<polyline points="345.80,55.04 337.80,55.04 337.80,116.36 342.50,116.36"/>
<polyline points="351.00,40.07 332.70,40.07 332.70,85.70 337.80,85.70"/>
<polyline points="351.00,171.41 349.20,171.41 349.20,179.13 351.00,179.13"/>
<polyline points="351.00,186.86 347.20,186.86 347.20,194.59 351.00,194.59"/>
<polyline points="349.20,175.27 345.50,175.27 345.50,190.72 347.20,190.72"/>
<polyline points="351.00,163.68 342.40,163.68 342.40,183.00 345.50,183.00"/>
<polyline points="351.00,202.31 341.90,202.31 341.90,210.04 351.00,210.04"/>
<polyline points="342.40,173.34 329.80,173.34 329.80,206.17 341.90,206.17"/>
<polyline points="332.70,62.88 320.50,62.88 320.50,189.76 329.80,189.76"/>
<polyline points="331.50,15.92 299.60,15.92 299.60,126.32 320.50,126.32"/></g>
</g>
</svg>
</body></html>
